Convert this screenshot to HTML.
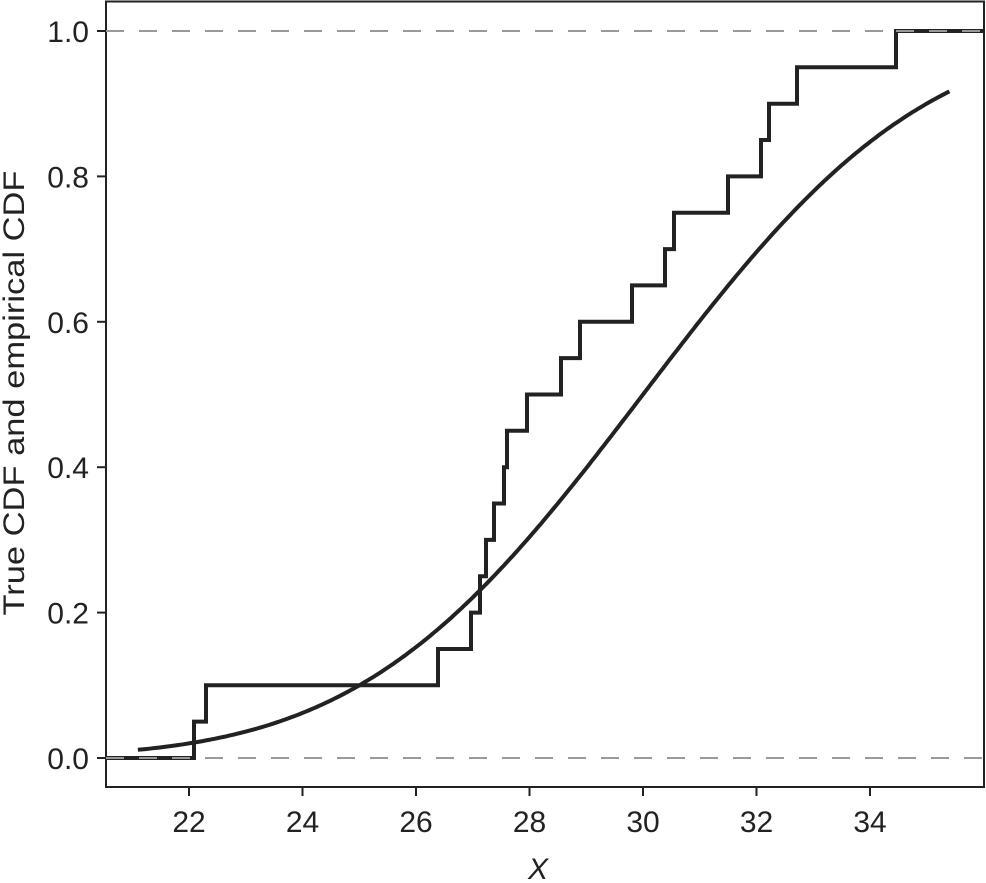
<!DOCTYPE html>
<html><head><meta charset="utf-8"><style>body{margin:0;background:#fff}svg{display:block}</style></head>
<body>
<svg id="s" width="986" height="883" viewBox="0 0 986 883" xmlns="http://www.w3.org/2000/svg" font-family="Liberation Sans, sans-serif">
<rect x="106" y="1.5" width="878" height="785.5" fill="none" stroke="#222" stroke-width="2"/>
<line x1="106" y1="31" x2="984" y2="31" stroke="#999" stroke-width="2" stroke-dasharray="18,15"/>
<line x1="106" y1="758" x2="984" y2="758" stroke="#999" stroke-width="2" stroke-dasharray="18,15"/>
<g stroke="#222" stroke-width="2">
<line x1="97" y1="31" x2="106" y2="31"/><line x1="97" y1="176.4" x2="106" y2="176.4"/><line x1="97" y1="321.8" x2="106" y2="321.8"/><line x1="97" y1="467.2" x2="106" y2="467.2"/><line x1="97" y1="612.6" x2="106" y2="612.6"/><line x1="97" y1="758" x2="106" y2="758"/>
<line x1="189" y1="787" x2="189" y2="796"/><line x1="302.5" y1="787" x2="302.5" y2="796"/><line x1="416" y1="787" x2="416" y2="796"/><line x1="529.5" y1="787" x2="529.5" y2="796"/><line x1="643" y1="787" x2="643" y2="796"/><line x1="756.5" y1="787" x2="756.5" y2="796"/><line x1="870" y1="787" x2="870" y2="796"/>
</g>
<g font-size="30" fill="#222" text-anchor="end">
<text x="89" y="42">1.0</text><text x="89" y="187.4">0.8</text><text x="89" y="332.8">0.6</text><text x="89" y="478.2">0.4</text><text x="89" y="623.6">0.2</text><text x="89" y="769">0.0</text>
</g>
<g font-size="30" fill="#222" text-anchor="middle">
<text x="189" y="832">22</text><text x="302.5" y="832">24</text><text x="416" y="832">26</text><text x="529.5" y="832">28</text><text x="643" y="832">30</text><text x="756.5" y="832">32</text><text x="870" y="832">34</text>
<text x="538" y="879" font-style="italic">X</text>
<text transform="translate(24,393) rotate(-90)" textLength="445" lengthAdjust="spacingAndGlyphs">True CDF and empirical CDF</text>
</g>
<path id="ecdf" fill="none" stroke="#222" stroke-width="4" stroke-linejoin="miter"/>
<path id="cdf" fill="none" stroke="#222" stroke-width="4"/>
<line x1="106" y1="758" x2="194" y2="758" stroke="#999" stroke-width="2" stroke-dasharray="18,15"/>
<line x1="896" y1="31" x2="984" y2="31" stroke="#999" stroke-width="2" stroke-dasharray="18,15"/>
</svg>
<script>
var xs=[194,206,438,471,480,486,494,504,507,527,561,580,632,665,674,728,761,769,797,896];
function Y(v){return 758-727*v;}
var d="M106,758";
for(var i=0;i<xs.length;i++){d+=" H"+xs[i]+" V"+Y((i+1)*0.05).toFixed(1);}
d+=" H984";
document.getElementById("ecdf").setAttribute("d",d);
function erf(x){var t=1/(1+0.3275911*Math.abs(x));var y=1-(((((1.061405429*t-1.453152027)*t)+1.421413741)*t-0.284496736)*t+0.254829592)*t*Math.exp(-x*x);return x>=0?y:-y;}
var c="";
for(var x=21.1;x<=35.401;x+=0.05){var v=0.5*(1+erf((x-30)/(3.9*Math.SQRT2)));var px=189+(x-22)*56.75;c+=(c?" L":"M")+px.toFixed(1)+","+Y(v).toFixed(1);}
document.getElementById("cdf").setAttribute("d",c);
</script>
</body></html>
